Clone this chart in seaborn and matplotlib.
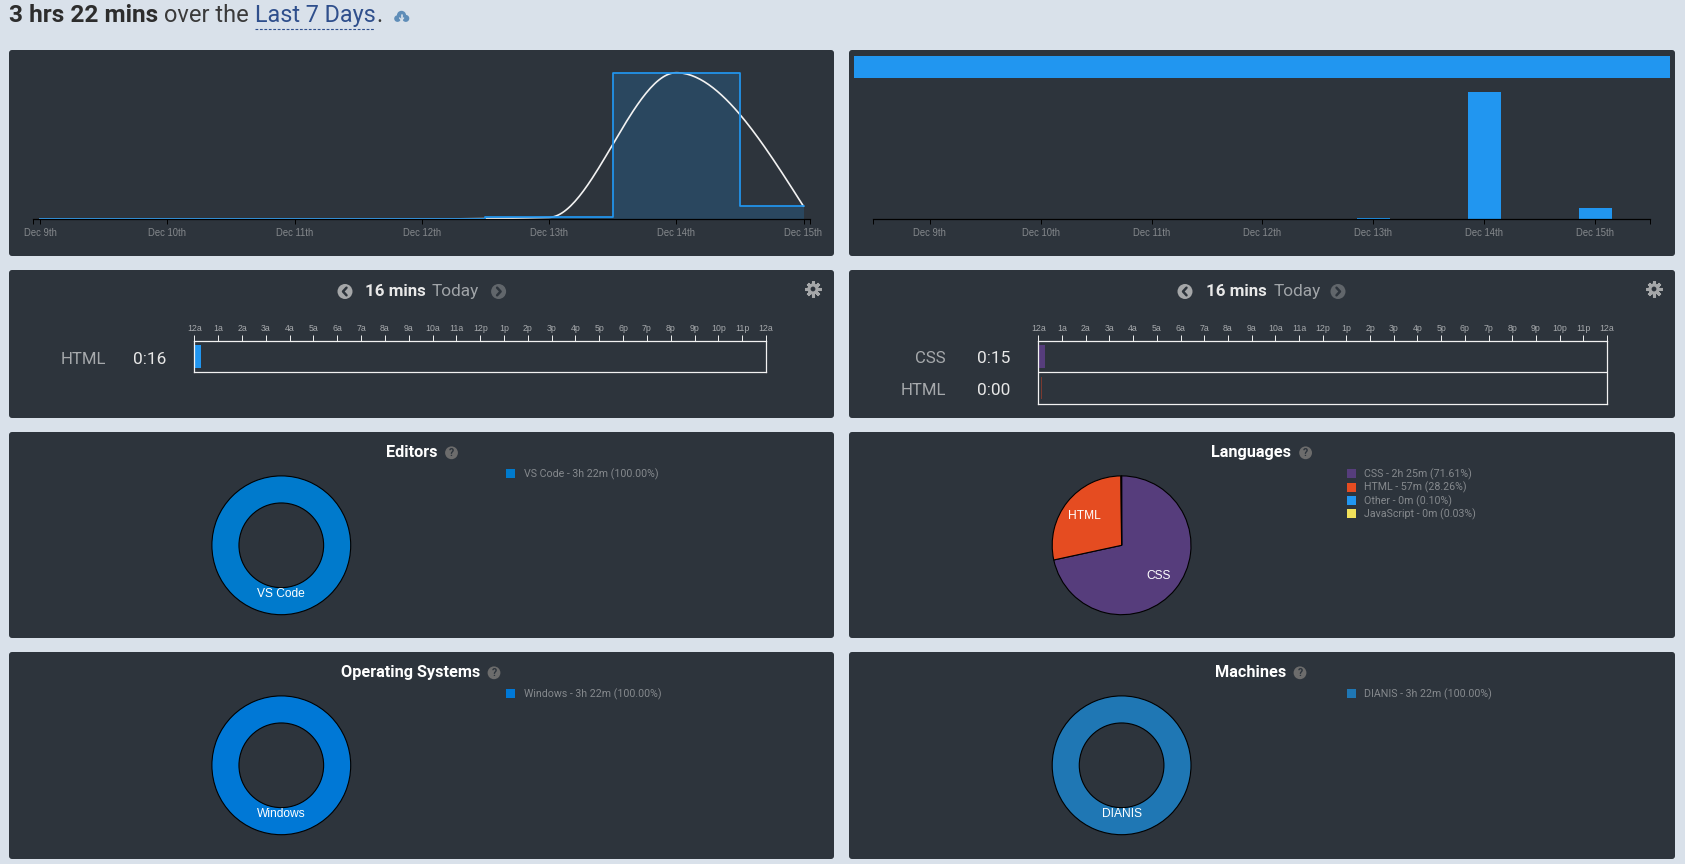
import numpy as np
import matplotlib
matplotlib.use('Agg')
import matplotlib.pyplot as plt
import seaborn as sns
from matplotlib.patches import FancyBboxPatch, Circle

# === DATA ===
day_labels = ['Dec 9th', 'Dec 10th', 'Dec 11th', 'Dec 12th', 'Dec 13th', 'Dec 14th', 'Dec 15th']
day_minutes = [0, 0, 0, 0, 2, 184, 16]
total_minutes = [202]

hour_labels = ['12a', '1a', '2a', '3a', '4a', '5a', '6a', '7a', '8a', '9a', '10a', '11a',
               '12p', '1p', '2p', '3p', '4p', '5p', '6p', '7p', '8p', '9p', '10p', '11p', '12a']
left_rows = ['HTML']
left_times = ['0:16']
left_starts = [0.0]
left_lengths = [0.27]
right_rows = ['CSS', 'HTML']
right_times = ['0:15', '0:00']
right_starts = [0.0, 0.13]
right_lengths = [0.26, 0.03]

editor_names = ['VS Code']
editor_shares = [100.0]
editor_legend = ['VS Code - 3h 22m (100.00%)']
language_names = ['CSS', 'HTML', '', '']
language_shares = [71.61, 28.26, 0.10, 0.03]
language_legend = ['CSS - 2h 25m (71.61%)', 'HTML - 57m (28.26%)', 'Other - 0m (0.10%)', 'JavaScript - 0m (0.03%)']
os_names = ['Windows']
os_shares = [100.0]
os_legend = ['Windows - 3h 22m (100.00%)']
machine_names = ['DIANIS']
machine_shares = [100.0]
machine_legend = ['DIANIS - 3h 22m (100.00%)']

# === COLORS ===
PAGE = '#d9e1ea'
PANEL = '#2d343c'
BLUE = '#2196f0'
LANG_COLORS = ['#563d7c', '#e54c21', '#2196f0', '#f1e05a']
W, H = 1685, 864

sns.set_theme(style='dark')
plt.rcParams['font.family'] = ['Roboto', 'DejaVu Sans']
plt.rcParams['axes.unicode_minus'] = False

fig = plt.figure(figsize=(W / 100, H / 100), dpi=100, facecolor=PAGE)

# page layer in pixel coordinates, panels and loose text go here
page = fig.add_axes([0, 0, 1, 1], zorder=0)
page.set_xlim(0, W)
page.set_ylim(H, 0)
page.axis('off')


def add_ax(x0, y0, x1, y1):
    # axes from a pixel box
    ax = fig.add_axes([x0 / W, 1 - y1 / H, (x1 - x0) / W, (y1 - y0) / H], zorder=2)
    ax.patch.set_alpha(0)
    return ax


def monotone_curve(y, n=60):
    # same smoothing as d3 curveMonotoneX, unit spacing
    y = np.asarray(y, dtype=float)
    s = np.diff(y)
    t = np.zeros(len(y))
    for i in range(1, len(y) - 1):
        t[i] = (np.sign(s[i - 1]) + np.sign(s[i])) * min(abs(s[i - 1]), abs(s[i]), 0.25 * abs(s[i - 1] + s[i]))
    t[0] = (3 * s[0] - t[1]) / 2
    t[-1] = (3 * s[-1] - t[-2]) / 2
    xs, ys = [], []
    for i in range(len(y) - 1):
        u = np.linspace(0, 1, n)
        ys.append((2 * u**3 - 3 * u**2 + 1) * y[i] + (u**3 - 2 * u**2 + u) * t[i]
                  + (-2 * u**3 + 3 * u**2) * y[i + 1] + (u**3 - u**2) * t[i + 1])
        xs.append(i + u)
    return np.concatenate(xs), np.concatenate(ys)


def style_day_axis(ax):
    for side in ['top', 'left', 'right']:
        ax.spines[side].set_visible(False)
    ax.spines['bottom'].set_color('black')
    ax.spines['bottom'].set_linewidth(0.9)
    ax.set_yticks([])
    ax.set_xlabel('')
    ax.set_ylabel('')
    ax.tick_params(axis='x', which='both', bottom=True, length=3.9, width=0.7, color='black',
                   labelsize=6.85, labelcolor='#85898d', pad=2.5)
    for lab in ax.get_xticklabels():
        lab.set_family('Liberation Sans')


def panel(x0, y0, x1, y1):
    page.add_patch(FancyBboxPatch((x0, y0), x1 - x0, y1 - y0, boxstyle='round,pad=0,rounding_size=3',
                                  facecolor=PANEL, edgecolor='none'))


for box in [(9, 50, 834, 256), (849, 50, 1675, 256), (9, 270, 834, 418), (849, 270, 1675, 418),
            (9, 432, 834, 638), (849, 432, 1675, 638), (9, 652, 834, 859), (849, 652, 1675, 859)]:
    panel(*box)

# === HEADER ===
page.text(9, 15.5, '3 hrs 22 mins', fontsize=17.6, fontweight='bold', color='#2d2d2d', va='center')
page.text(163.5, 15.5, 'over the', fontsize=17, color='#3a3a3a', va='center')
page.text(255, 15.5, 'Last 7 Days', fontsize=16.8, color='#2f4f8c', va='center')
page.text(376.5, 15.5, '.', fontsize=17, color='#3a3a3a', va='center')
page.plot([255, 374], [28.5, 28.5], color='#2f4f8c', lw=0.8, ls=(0, (2.5, 1.5)))
# download cloud icon
for cx, cy, r in [(397.5, 18.6, 3.3), (401.5, 15.4, 4.6), (405.8, 18.4, 3.5)]:
    page.add_patch(Circle((cx, cy), r, facecolor='#5f8db8', edgecolor='none'))
page.plot([401.6, 401.6], [15, 19.5], color=PAGE, lw=1.2)
page.plot([399.6, 401.6, 403.6], [18, 20.3, 18], color=PAGE, lw=1.0)

# === LINE CHART ===
ax1 = add_ax(32.7, 60, 810, 219)
curve_x, curve_y = monotone_curve(day_minutes)
days = np.arange(len(day_minutes))
ax1.fill_between(days, day_minutes, step='mid', color=BLUE, alpha=0.2, linewidth=0)
sns.lineplot(x=curve_x, y=curve_y, color='#f2f2f2', linewidth=1.2, estimator=None, sort=False, ax=ax1, clip_on=False)
sns.lineplot(x=days, y=day_minutes, color=BLUE, linewidth=1.25, estimator=None, drawstyle='steps-mid', ax=ax1, clip_on=False)
ax1.set_xlim(-7.3 / 127.25, 6 + 6.5 / 127.25)
ax1.set_ylim(0, 184 * 159 / 146.3)
ax1.set_xticks(days)
ax1.set_xticklabels(day_labels)
ax1.set_xticks(ax1.get_xlim(), minor=True)
style_day_axis(ax1)

# === BAR CHART ===
ax2 = add_ax(873.4, 84, 1650, 219)
sns.barplot(x=day_labels, y=day_minutes, color=BLUE, saturation=1, width=0.3, linewidth=0, ax=ax2)
ax2.set_xlim(-0.507, 6.493)
ax2.set_ylim(0, 184 * 135 / 127)
ax2.set_xticks(ax2.get_xlim(), minor=True)
style_day_axis(ax2)

ax_total = add_ax(854, 56, 1670, 78)
sns.barplot(x=total_minutes, y=['total'], orient='y', color=BLUE, saturation=1, width=1, linewidth=0, ax=ax_total)
ax_total.set_xlim(0, total_minutes[0])
ax_total.set_ylim(0.5, -0.5)
ax_total.axis('off')


# === TIMELINES ===
def timeline(x0, x1, rows, starts, lengths, colors):
    row_h = 31.5
    ax = add_ax(x0, 340.9, x1, 340.9 + row_h * len(rows))
    ypos = np.arange(len(rows))
    ax.barh(ypos, lengths, left=starts, height=0.72, color=colors, linewidth=0)
    ax.hlines(ypos[:-1] + 0.5, 0, 24, color='#f2f2f2', lw=0.9)
    ax.set_xlim(0, 24)
    ax.set_ylim(len(rows) - 0.5, -0.5)
    ax.set_yticks([])
    ax.set_xticks(range(25))
    ax.set_xticklabels(hour_labels)
    ax.xaxis.tick_top()
    ax.tick_params(axis='x', length=4.4, width=0.7, color='#f2f2f2', top=True, bottom=False,
                   labelsize=6.3, labelcolor='#a6a9ac', pad=1.5)
    for lab in ax.get_xticklabels():
        lab.set_family('Liberation Sans')
    for side in ax.spines:
        ax.spines[side].set_visible(True)
        ax.spines[side].set_color('#f2f2f2')
        ax.spines[side].set_linewidth(0.9)
    return ax


timeline(194.4, 766, left_rows, left_starts, left_lengths, [BLUE])
timeline(1038.4, 1607, right_rows, right_starts, right_lengths, [LANG_COLORS[0], '#7a3a30'])


def gear(x, y):
    page.plot([x], [y], marker=(8, 2, 0), markersize=11.5, markeredgewidth=2.2, color='#a5a7a9')
    page.add_patch(Circle((x, y), 5.6, facecolor='#a5a7a9', edgecolor='none'))
    page.add_patch(Circle((x, y), 2.4, facecolor=PANEL, edgecolor='none', zorder=3))


def day_title(cx_left, cx_right, x_bold, x_today, x_gear):
    y = 291.5
    page.text(x_bold, y, '16 mins', fontsize=12.2, fontweight='bold', color='#e8e8e8', va='center')
    page.text(x_today, y, 'Today', fontsize=12.4, color='#a0a4a8', va='center')
    page.add_patch(Circle((cx_left, y), 7.5, facecolor='#a5a7a9', edgecolor='none'))
    page.add_patch(Circle((cx_right, y), 7.5, facecolor='#61666b', edgecolor='none'))
    page.plot([cx_left + 1.5, cx_left - 2, cx_left + 1.5], [y - 3.8, y, y + 3.8], color=PANEL, lw=1.8, zorder=3)
    page.plot([cx_right - 1.5, cx_right + 2, cx_right - 1.5], [y - 3.8, y, y + 3.8], color=PANEL, lw=1.8, zorder=3)
    gear(x_gear, 289)


day_title(345, 498.6, 365, 432, 813)
day_title(1185, 1338, 1206.5, 1274, 1654)

for name, clock, y in zip(left_rows, left_times, [359]):
    page.text(106.3, y, name, fontsize=12.1, color='#a6a9ac', ha='right', va='center')
    page.text(166.6, y, clock, fontsize=12.4, color='#e8e8e8', ha='right', va='center')
for name, clock, y in zip(right_rows, right_times, [358.7, 390.7]):
    page.text(945.8, y, name, fontsize=12.1, color='#a6a9ac', ha='right', va='center')
    page.text(1010, y, clock, fontsize=12.4, color='#e8e8e8', ha='right', va='center')


# === PIES ===
def pie_panel(cx, cy, shares, names, colors, hole, title, title_x, help_x, legend, legend_x):
    r = 69.4 * 1.05
    ax = add_ax(cx - r, cy - r, cx + r, cy + r)
    wedgeprops = {'edgecolor': 'black', 'linewidth': 0.8}
    if hole:
        wedgeprops['width'] = 1 - hole
    _, texts = ax.pie(shares, labels=names, colors=colors, startangle=90, counterclock=False,
                      radius=1, labeldistance=0.69, wedgeprops=wedgeprops,
                      textprops={'color': 'white', 'fontsize': 8.64, 'family': 'Liberation Sans'})
    for t in texts:
        t.set_ha('center')
        t.set_va('center')
        t.set_y(t.get_position()[1] - 0.015)
    ax.set_xlim(-1.05, 1.05)
    ax.set_ylim(-1.05, 1.05)

    title_y = cy - 92.5
    page.text(title_x, title_y, title, fontsize=11.7, fontweight='bold', color='white', ha='center', va='center')
    page.add_patch(Circle((help_x, title_y), 6.4, facecolor='#6c6c6c', edgecolor='none'))
    page.text(help_x, title_y, '?', fontsize=7.5, fontweight='bold', color=PANEL, ha='center', va='center')
    for i, entry in enumerate(legend):
        y = cy - 71.7 + i * 13.45
        page.add_patch(plt.Rectangle((legend_x, y - 4.5), 9, 9, facecolor=colors[i], edgecolor='none'))
        page.text(legend_x + 17.5, y + 0.5, entry, fontsize=7.7, color='#85898d', va='center')


pie_panel(281.3, 545.3, editor_shares, editor_names, ['#007acc'], 0.61, 'Editors', 411.5, 451.5, editor_legend, 506)
pie_panel(1121.6, 545.3, language_shares, language_names, LANG_COLORS, 0, 'Languages', 1251.5, 1305.6, language_legend, 1347)
pie_panel(281.3, 765.3, os_shares, os_names, ['#0078d6'], 0.61, 'Operating Systems', 410.5, 494, os_legend, 506)
pie_panel(1121.6, 765.3, machine_shares, machine_names, ['#1f77b4'], 0.61, 'Machines', 1251, 1300, machine_legend, 1347)

fig.savefig('out.png', dpi=100, facecolor=PAGE)
